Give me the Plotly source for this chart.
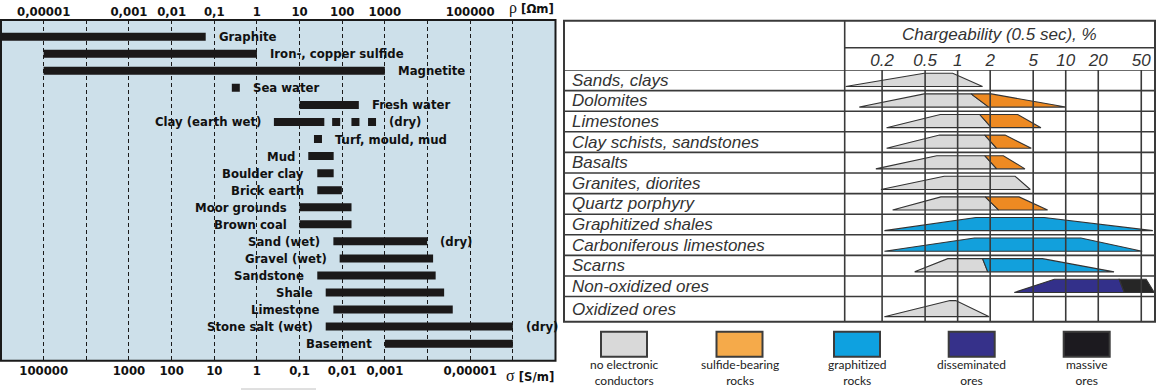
import math
import plotly.graph_objects as go

W, H = 1160, 391


def px(x):
    return x / W


def py(y):
    return 1 - y / H


NARROW = "Liberation Sans Narrow, DejaVu Sans Condensed, Arial Narrow, sans-serif"
ITAL = "Liberation Sans, Arial, sans-serif"
ROUND = "Lato, Noto Sans, sans-serif"

# ---------------- Left panel data: resistivity ranges (Ohm m) ----------------
decades = [1e-5, 1e-4, 1e-3, 1e-2, 1e-1, 1, 10, 100, 1e3, 1e4, 1e5, 1e6]
rho_ticktext = ["0,00001", "", "0,001", "0,01", "0,1", "1", "10", "100", "1000", "", "100000", ""]
sigma_ticktext = ["100000", "", "1000", "100", "10", "1", "0,1", "0,01", "0,001", "", "0,00001", ""]

materials = ["Graphite", "Iron-, copper sulfide", "Magnetite", "Sea water", "Fresh water",
             "Clay (earth wet)", "Turf, mould, mud", "Mud", "Boulder clay", "Brick earth",
             "Moor grounds", "Brown coal", "Sand (wet)", "Gravel (wet)", "Sandstone", "Shale",
             "Limestone", "Stone salt (wet)", "Basement"]
rho_low = [1e-6, 1e-5, 1e-5, None, 10, 2.5, None, 16, 26, 26, 10, 10, 62, 87, 26, 41, 62, 41, 1000]
rho_high = [0.063, 1, 1000, None, 245, 38, None, 63, 63, 98, 165, 165, 9800, 13500, 15500, 24500,
            39000, 1e6, 1e6]
label_side = ["right", "right", "right", "right", "right", "left", "right", "left", "left", "left",
              "left", "left", "left", "left", "left", "left", "left", "left", "left"]
point_rows = [3, 5, 5, 5, 6]
point_rho = [0.32, 72, 204, 500, 27]
dry_rows = [5, 12, 17]
dry_after = [500, 9800, 1e6]

# ---------------- Right panel data: chargeability (%) ----------------
charge_ticks = [0.2, 0.5, 1, 2, 5, 10, 20, 50]
charge_ticktext = ["0.2", "0.5", "1", "2", "5", "10", "20", "50"]
rocks = ["Sands, clays", "Dolomites", "Limestones", "Clay schists, sandstones", "Basalts",
         "Granites, diorites", "Quartz porphyry", "Graphitized shales", "Carboniferous limestones",
         "Scarns", "Non-oxidized ores", "Oxidized ores"]
# each segment: (class index, [bottom-left, top-left, top-right, bottom-right])
rock_segments = [
    [(0, [0.092, 0.49, 0.90, 1.70])],
    [(0, [0.123, 0.49, 1.33, 1.94]), (1, [1.94, 1.33, 2.05, 10.0])],
    [(0, [0.22, 0.69, 1.60, 2.05]), (1, [2.05, 1.60, 3.6, 5.9])],
    [(0, [0.22, 0.68, 1.78, 2.30]), (1, [2.30, 1.78, 2.75, 4.8])],
    [(0, [0.175, 0.64, 1.78, 2.30]), (1, [2.30, 1.78, 2.65, 4.2])],
    [(0, [0.195, 0.75, 3.4, 4.7])],
    [(0, [0.25, 0.70, 1.80, 2.40]), (1, [2.40, 1.80, 3.7, 6.8])],
    [(2, [0.21, 1.48, 6.3, 64])],
    [(2, [0.21, 1.43, 13.8, 51])],
    [(0, [0.40, 0.81, 1.70, 1.90]), (2, [1.90, 1.70, 6.1, 28])],
    [(3, [3.34, 7.85, 31.3, 34.8]), (4, [34.8, 31.3, 55.5, 66])],
    [(0, [0.21, 0.85, 0.96, 1.96])],
]
row_heights = [1] * 11 + [1.22]

classes = ["no electronic<br>conductors", "sulfide-bearing<br>rocks", "graphitized<br>rocks",
           "disseminated<br>ores", "massive<br>ores"]
class_fill = ["#d9d9d9", "#ee8a22", "#12a0dc", "#33308a", "#262626"]
legend_fill = ["#d9d9d9", "#f5aa4a", "#0ea1e0", "#36318a", "#1c1a1f"]

fig = go.Figure()

# ---------------- Left panel traces ----------------
bx, by = [], []
for i, (lo, hi) in enumerate(zip(rho_low, rho_high)):
    if lo is None:
        continue
    bx += [lo, hi, None]
    by += [i, i, None]
fig.add_trace(go.Scatter(x=bx, y=by, mode="lines", line=dict(color="#1b1919", width=8),
                         xaxis="x", yaxis="y", hoverinfo="skip", showlegend=False))
fig.add_trace(go.Scatter(x=point_rho, y=point_rows, mode="markers",
                         marker=dict(symbol="square", size=8, color="#1b1919", line=dict(width=0)),
                         xaxis="x", yaxis="y", hoverinfo="skip", showlegend=False))
# invisible trace to keep the top axis alive
fig.add_trace(go.Scatter(x=[1], y=[0], mode="markers", marker=dict(opacity=0), xaxis="x2", yaxis="y",
                         hoverinfo="skip", showlegend=False))

annotations = []
lab_font = dict(family=NARROW, size=13, color="#111111", weight="bold")
for i, name in enumerate(materials):
    pts = [p for r, p in zip(point_rows, point_rho) if r == i]
    if label_side[i] == "right":
        cands = ([rho_high[i]] if rho_high[i] is not None else []) + pts
        xv = max(cands)
        shift = 11 + (4 if xv in pts else 0)
        annotations.append(dict(x=math.log10(xv), y=i, xref="x", yref="y", text=name, showarrow=False,
                                xanchor="left", yanchor="middle", xshift=shift, font=lab_font))
    else:
        cands = ([rho_low[i]] if rho_low[i] is not None else []) + pts
        xv = min(cands)
        shift = -11 - (4 if xv in pts else 0)
        annotations.append(dict(x=math.log10(xv), y=i, xref="x", yref="y", text=name, showarrow=False,
                                xanchor="right", yanchor="middle", xshift=shift, font=lab_font))
for r, v in zip(dry_rows, dry_after):
    pts = [p for rr, p in zip(point_rows, point_rho) if rr == r]
    shift = 11 + (4 if v in pts else 0)
    annotations.append(dict(x=math.log10(v), y=r, xref="x", yref="y", text="(dry)", showarrow=False,
                            xanchor="left", yanchor="middle", xshift=shift, font=lab_font))

annotations.append(dict(x=px(556), y=py(8), xref="paper", yref="paper", xanchor="right", yanchor="middle",
                        showarrow=False, font=lab_font,
                        text='<span style="font-family:Liberation Serif;font-weight:normal;font-size:16px">ρ</span> [Ωm]'))
annotations.append(dict(x=px(556), y=py(375), xref="paper", yref="paper", xanchor="right",
                        yanchor="middle", showarrow=False, font=lab_font,
                        text='<span style="font-family:Liberation Serif;font-weight:normal;font-size:16px">σ</span> [S/m]'))

# ---------------- Right panel traces ----------------
row_tops = []
t = 0
for h in row_heights:
    row_tops.append(t)
    t += h
y_total = t

for k, segs in enumerate(rock_segments):
    top = row_tops[k] + 0.16 * row_heights[k]
    bot = row_tops[k] + 0.80 * row_heights[k]
    for c, xs in segs:
        fig.add_trace(go.Scatter(x=[xs[0], xs[1], xs[2], xs[3], xs[0]], y=[bot, top, top, bot, bot],
                                 mode="lines", fill="toself", fillcolor=class_fill[c],
                                 line=dict(color="#333333", width=1.1), xaxis="x3", yaxis="y3",
                                 hoverinfo="skip", showlegend=False))

gx, gy = [], []
for v in charge_ticks:
    gx += [v, v, None]
    gy += [0, y_total, None]
fig.add_trace(go.Scatter(x=gx, y=gy, mode="lines", line=dict(color="#3a3a3a", width=1.6),
                         xaxis="x3", yaxis="y3", hoverinfo="skip", showlegend=False))

tab_font = dict(family=ITAL, size=17, color="#333333", style="italic")
for k, name in enumerate(rocks):
    annotations.append(dict(x=px(570), y=row_tops[k] + row_heights[k] / 2, xref="paper", yref="y3",
                            text=name, showarrow=False, xanchor="left", yanchor="middle", font=tab_font))
annotations.append(dict(x=px((844.7 + 1155) / 2), y=py(34.5), xref="paper", yref="paper",
                        text="Chargeability (0.5 sec), %", showarrow=False, xanchor="center",
                        yanchor="middle", font=tab_font))

shapes = []
# left panel background and frame
shapes.append(dict(type="rect", xref="paper", yref="paper", x0=px(1), x1=px(555.5), y0=py(360.7), y1=py(20),
                   fillcolor="#cde0ea", line=dict(width=0), layer="below"))
shapes.append(dict(type="rect", xref="paper", yref="paper", x0=px(1), x1=px(555.5), y0=py(360.7), y1=py(20),
                   line=dict(color="#1a1a1a", width=2), layer="above"))
shapes.append(dict(type="line", xref="paper", yref="paper", x0=px(241), x1=px(316), y0=py(389), y1=py(389),
                   line=dict(color="#c0c0c0", width=1)))

# table frame
TL, TS, TR, TT, TB = 564, 844.7, 1155, 20.7, 321.7
lc = "#3a3a3a"
shapes.append(dict(type="rect", xref="paper", yref="paper", x0=px(TL), x1=px(TR), y0=py(TB), y1=py(TT),
                   line=dict(color=lc, width=2)))
shapes.append(dict(type="line", xref="paper", yref="paper", x0=px(TS), x1=px(TS), y0=py(TB), y1=py(TT),
                   line=dict(color=lc, width=1.6)))
shapes.append(dict(type="line", xref="paper", yref="paper", x0=px(TS), x1=px(TR), y0=py(47.7), y1=py(47.7),
                   line=dict(color=lc, width=1.6)))
for k in range(len(rocks)):
    shapes.append(dict(type="line", xref="paper", yref="y3", x0=px(TL), x1=px(TR), y0=row_tops[k],
                       y1=row_tops[k], line=dict(color=lc, width=1.6)))

# legend
leg_cx = [624, 739.5, 857, 971.7, 1086.7]
for i, (lab, col) in enumerate(zip(classes, legend_fill)):
    cx = leg_cx[i]
    shapes.append(dict(type="rect", xref="paper", yref="paper", x0=px(cx - 23), x1=px(cx + 23),
                       y0=py(356.7), y1=py(331.7), fillcolor=col, line=dict(color="#3c3c3c", width=2)))
    annotations.append(dict(x=px(cx), y=py(372.5), xref="paper", yref="paper", text=lab, showarrow=False,
                            xanchor="center", yanchor="middle", align="center",
                            font=dict(family=ROUND, size=12, color="#222222")))

tick_font = dict(family=NARROW, size=13, color="#111111", weight="bold")
fig.update_layout(
    width=W, height=H, margin=dict(l=0, r=0, t=0, b=0),
    paper_bgcolor="white", plot_bgcolor="rgba(0,0,0,0)", showlegend=False,
    xaxis=dict(type="log", domain=[px(1), px(555.5)], range=[-6, 7], anchor="y",
               tickmode="array", tickvals=decades, ticktext=sigma_ticktext, tickfont=tick_font,
               showgrid=True, gridcolor="#1a1a1a", gridwidth=1, griddash="4px,3px",
               showline=False, ticks="", zeroline=False),
    xaxis2=dict(type="log", overlaying="x", side="top", range=[-6, 7], anchor="y",
                tickmode="array", tickvals=decades, ticktext=rho_ticktext, tickfont=tick_font,
                showgrid=False, showline=False, ticks=""),
    yaxis=dict(domain=[py(360.7), py(20)], range=[19.0, -0.98], visible=False, anchor="x"),
    xaxis3=dict(type="log", domain=[px(TS), px(TR)], range=[-1.045, 1.826], anchor="y3", side="top",
                tickmode="array", tickvals=charge_ticks, ticktext=charge_ticktext, tickfont=tab_font,
                showgrid=False, showline=False, ticks="", zeroline=False),
    yaxis3=dict(domain=[py(TB), py(70)], range=[y_total, 0], visible=False, anchor="x3"),
    shapes=shapes, annotations=annotations,
)

fig.write_html("out.html", config={"displayModeBar": False},
               post_script="document.body.style.margin='0px';document.body.style.overflow='hidden';")
